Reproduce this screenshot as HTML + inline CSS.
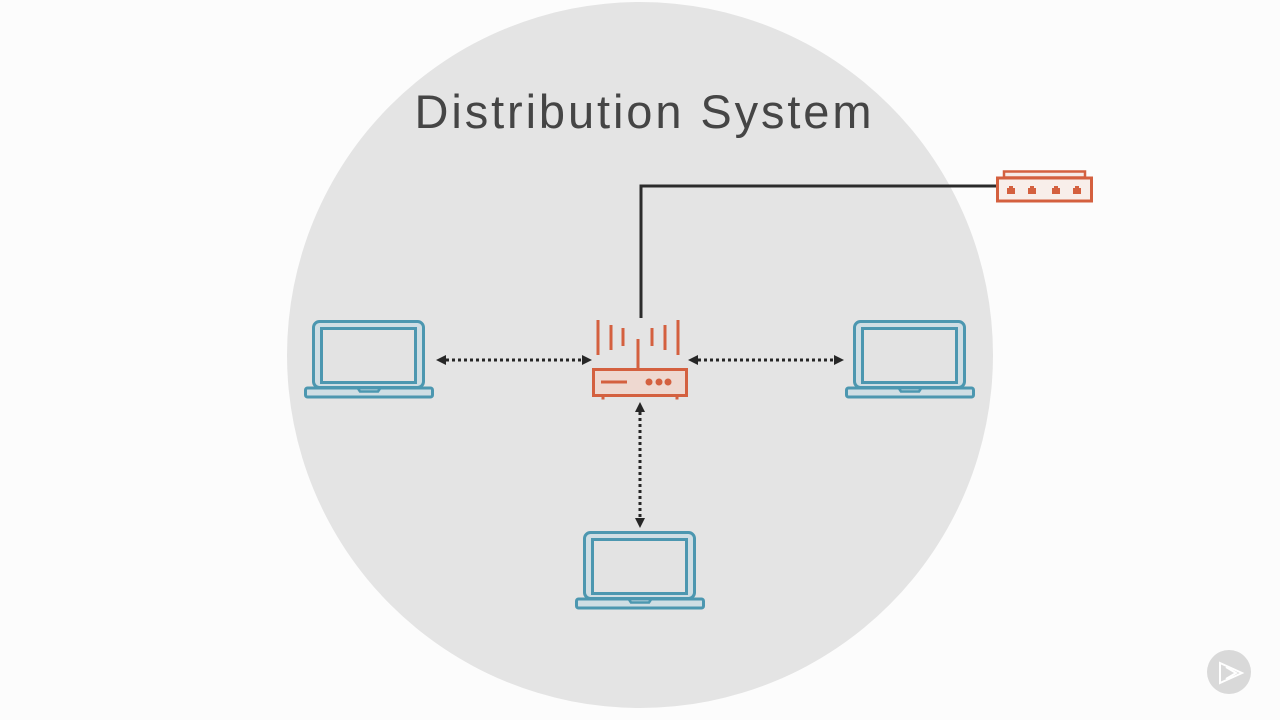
<!DOCTYPE html>
<html>
<head>
<meta charset="utf-8">
<style>
  html, body { margin: 0; padding: 0; background: #fcfcfc; }
  body { width: 1280px; height: 720px; overflow: hidden; }
  svg { display: block; }
</style>
</head>
<body>
<svg width="1280" height="720" viewBox="0 0 1280 720" xmlns="http://www.w3.org/2000/svg">
  <defs>
    <g id="laptop">
      <rect x="313.5" y="321.5" width="110" height="66" rx="6" ry="6" fill="#cfdee4" stroke="#4c97b0" stroke-width="3"/>
      <rect x="321.5" y="328.5" width="94" height="54" fill="#e3e3e3" stroke="#4c97b0" stroke-width="3"/>
      <rect x="305.5" y="388" width="127" height="9" rx="2" ry="2" fill="#cfdee4" stroke="#4c97b0" stroke-width="3"/>
      <path d="M358 388.5 L360 391.5 L378 391.5 L380 388.5" fill="none" stroke="#4c97b0" stroke-width="2.5"/>
    </g>
  </defs>

  <rect x="0" y="0" width="1280" height="720" fill="#fcfcfc"/>
  <circle cx="640" cy="355" r="353" fill="#e4e4e4"/>

  <text x="643" y="128" font-family="Liberation Sans, sans-serif" font-size="47" fill="#454545" text-anchor="middle" textLength="457" lengthAdjust="spacing">Distribution System</text>

  <!-- connector to switch -->
  <polyline points="641,318 641,186 997,186" fill="none" stroke="#2b2b2b" stroke-width="3"/>

  <!-- switch -->
  <g stroke="#d4603f" fill="none">
    <rect x="1004" y="171.5" width="81" height="6" fill="#f6ebe7" stroke-width="2.5"/>
    <rect x="997.5" y="178" width="94" height="23" fill="#f8eeea" stroke-width="3"/>
  </g>
  <g fill="#d4603f">
    <rect x="1007" y="188" width="8" height="6"/><rect x="1009" y="186" width="4" height="2"/>
    <rect x="1028" y="188" width="8" height="6"/><rect x="1030" y="186" width="4" height="2"/>
    <rect x="1052" y="188" width="8" height="6"/><rect x="1054" y="186" width="4" height="2"/>
    <rect x="1073" y="188" width="8" height="6"/><rect x="1075" y="186" width="4" height="2"/>
  </g>

  <!-- router -->
  <g stroke="#d4603f" stroke-width="3" fill="none">
    <line x1="598" y1="320" x2="598" y2="355"/>
    <line x1="611" y1="325" x2="611" y2="350"/>
    <line x1="623" y1="328" x2="623" y2="346"/>
    <line x1="652" y1="328" x2="652" y2="346"/>
    <line x1="665" y1="325" x2="665" y2="350"/>
    <line x1="678" y1="320" x2="678" y2="355"/>
    <line x1="638" y1="339" x2="638" y2="369"/>
    <rect x="593.5" y="369.5" width="93" height="26" fill="#eed8d0"/>
    <line x1="601" y1="382" x2="627" y2="382"/>
  </g>
  <g fill="#d4603f">
    <rect x="601.5" y="396" width="3" height="3.5"/>
    <rect x="675.5" y="396" width="3" height="3.5"/>
    <circle cx="649" cy="382" r="3.5"/>
    <circle cx="659" cy="382" r="3.5"/>
    <circle cx="668" cy="382" r="3.5"/>
  </g>

  <!-- dotted arrows -->
  <g stroke="#262626" stroke-width="3" stroke-dasharray="3 3" fill="none">
    <line x1="446" y1="360" x2="582" y2="360"/>
    <line x1="698" y1="360" x2="834" y2="360"/>
    <line x1="640" y1="412" x2="640" y2="518"/>
  </g>
  <g fill="#262626">
    <polygon points="436,360 446,355 446,365"/>
    <polygon points="592,360 582,355 582,365"/>
    <polygon points="688,360 698,355 698,365"/>
    <polygon points="844,360 834,355 834,365"/>
    <polygon points="640,402 635,412 645,412"/>
    <polygon points="640,528 635,518 645,518"/>
  </g>

  <!-- laptops -->
  <use href="#laptop"/>
  <use href="#laptop" transform="translate(541,0)"/>
  <use href="#laptop" transform="translate(271,211)"/>

  <!-- logo -->
  <circle cx="1229" cy="672" r="22" fill="#d9d9d9"/>
  <polygon points="1220,663 1242,673 1220,683" fill="none" stroke="#ffffff" stroke-width="2"/>
  <polyline points="1226,667 1236,673 1226,679" fill="none" stroke="#ffffff" stroke-width="2"/>
</svg>
</body>
</html>
